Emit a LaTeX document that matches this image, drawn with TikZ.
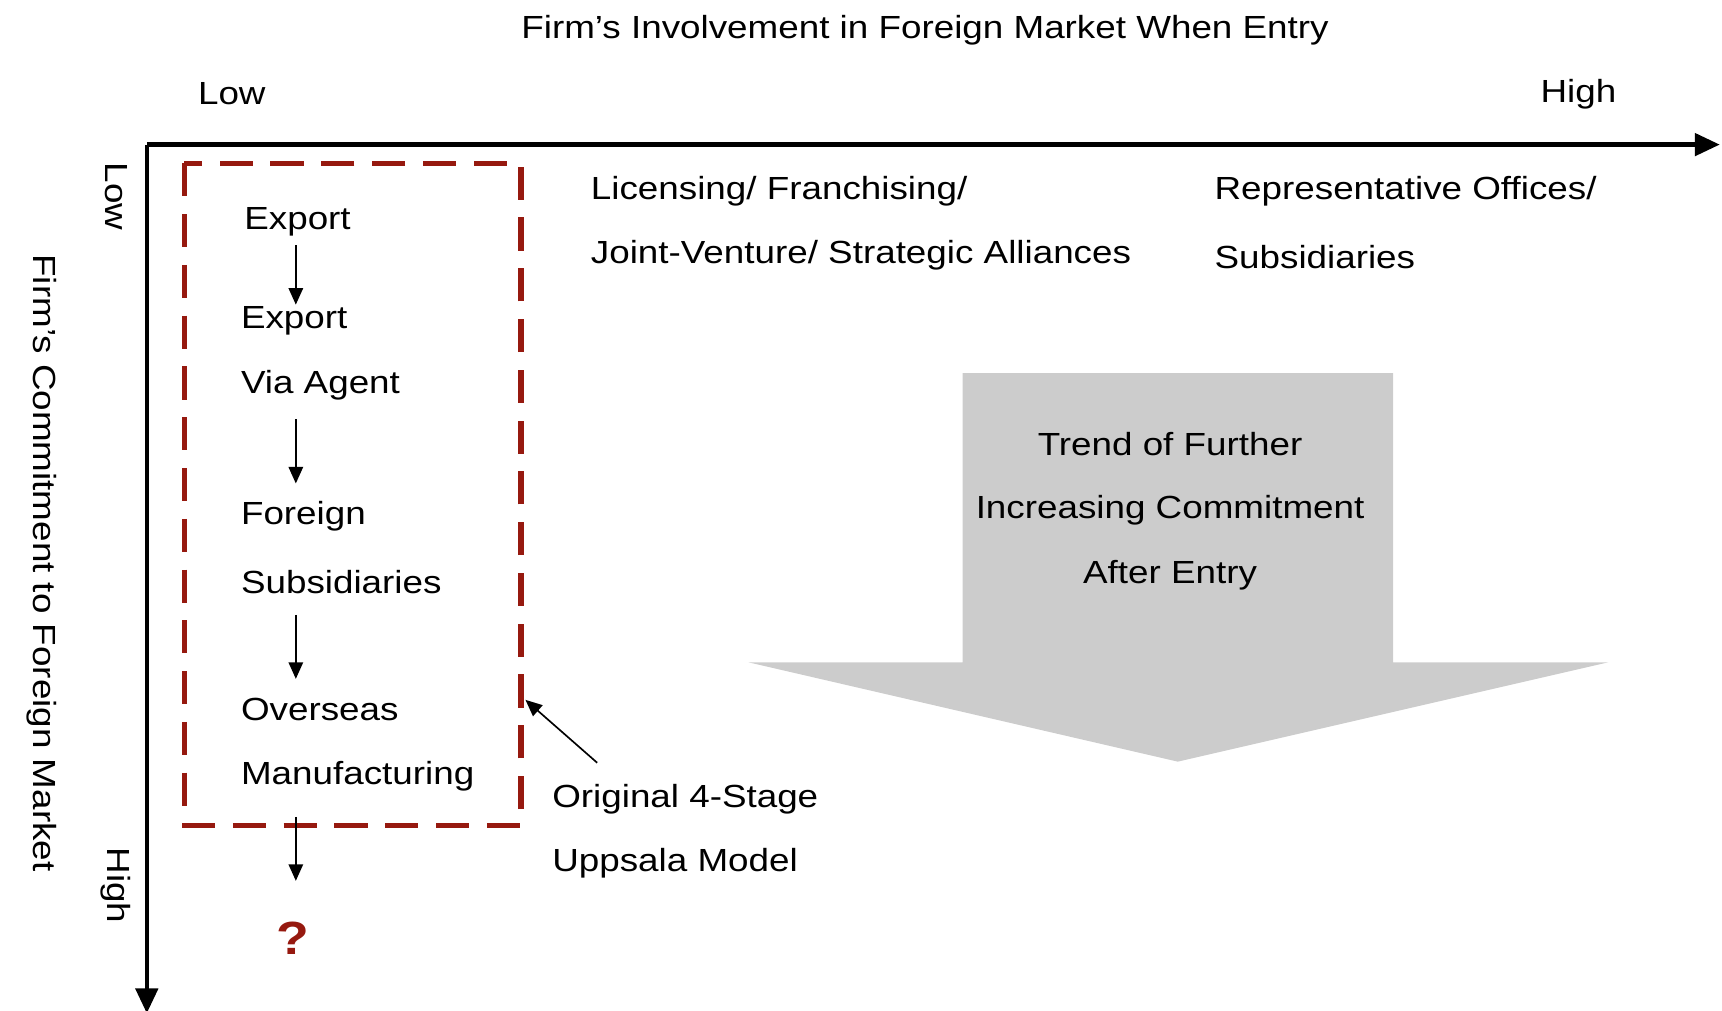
\documentclass[tikz,border=0pt]{standalone}
\usepackage{fontspec}
\setmainfont[FakeStretch=1.15]{Liberation Sans}
\usetikzlibrary{arrows.meta, positioning}
\definecolor{boxred}{RGB}{150,25,15}
\tikzset{
    lbl/.style = {inner sep=0pt, font=\fontsize{16.5}{19}\selectfont},
    stage/.style = {lbl, anchor=west},
    axis/.style = {draw, line width=0.8mm, -{Triangle[length=4.5mm,width=4mm]}},
    stagearrow/.style = {draw, line width=0.35mm, -{Triangle[length=3mm,width=2.6mm]}}
}
\begin{document}
\begin{tikzpicture}[x=0.2mm, y=-0.2mm]
    \useasboundingbox (0,0) rectangle (1560,915);
    % Axes
    \coordinate (origin) at (133,131);
    \coordinate (xend) at (1558,131);
    \coordinate (yend) at (133,918);
    \path [axis] (origin) -- (xend);
    \path [axis] (origin) -- (yend);
    \node [lbl] (xtitle) at (838,27) {Firm’s Involvement in Foreign Market When Entry};
    \node [lbl] (xlow) at (210,85) {Low};
    \node [lbl] (xhigh) at (1430,85) {High};
    \node [lbl, rotate=-90] (ytitle) at (38,510) {Firm’s Commitment to Foreign Market};
    \node [lbl, rotate=-90] (ylow) at (105,178) {Low};
    \node [lbl, rotate=-90] (yhigh) at (105,802) {High};
    % Uppsala box
    \draw [boxred, line width=1mm, dash pattern=on 6mm off 3.2mm] (167,148) rectangle (472,748);
    \node [stage] (export) at (221,201) {Export};
    \node [stage] (agent1) at (218,291) {Export};
    \node [stage] (agent2) at (218,349) {Via Agent};
    \node [stage] (subs1) at (218,468) {Foreign};
    \node [stage] (subs2) at (218,527) {Subsidiaries};
    \node [stage] (manu1) at (218,643) {Overseas};
    \node [stage] (manu2) at (218,703) {Manufacturing};
    \node [lbl, boxred, font=\fontsize{24}{26}\selectfont\bfseries] (unknown) at (265,850) {?};
    \coordinate (a1) at (268,222); \coordinate (b1) at (268,276);
    \coordinate (a2) at (268,380); \coordinate (b2) at (268,438);
    \coordinate (a3) at (268,557); \coordinate (b3) at (268,615);
    \coordinate (a4) at (268,740); \coordinate (b4) at (268,798);
    \foreach \i in {1,...,4} \path [stagearrow] (a\i) -- (b\i);
    % Other modes
    \node [stage] (lic1) at (535,173) {Licensing/ Franchising/};
    \node [stage] (lic2) at (535,231) {Joint-Venture/ Strategic Alliances};
    \node [stage] (rep1) at (1100,173) {Representative Offices/};
    \node [stage] (rep2) at (1100,233) {Subsidiaries};
    % Trend arrow
    \fill [gray!40] (872,338) -- (1262,338) -- (1262,600) -- (1457,600)
        -- (1067,690) -- (678,600) -- (872,600) -- cycle;
    \node [lbl] (trend1) at (1060,402) {Trend of Further};
    \node [lbl] (trend2) at (1060,462) {Increasing Commitment};
    \node [lbl] (trend3) at (1060,521) {After Entry};
    % Model label
    \node [stage] (model1) at (500,724) {Original 4-Stage};
    \node [stage] (model2) at (500,782) {Uppsala Model};
    \coordinate (mtail) at (541,691);
    \coordinate (mhead) at (476,634);
    \path [stagearrow, line width=0.3mm] (mtail) -- (mhead);
\end{tikzpicture}
\end{document}
